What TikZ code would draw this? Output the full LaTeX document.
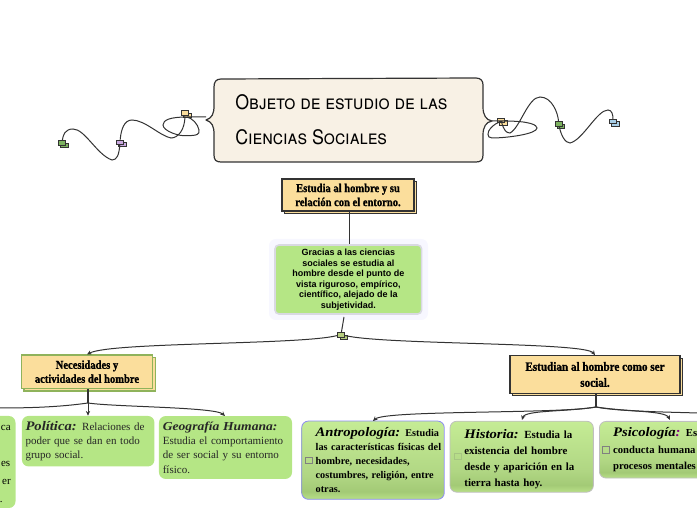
\documentclass[tikz,border=0pt]{standalone}
\usepackage{fontspec}
\setmainfont{Liberation Serif}
\setsansfont{Liberation Sans}
\newfontfamily\titlefont[Letters=SmallCaps,FakeStretch=0.89]{TeX Gyre Heros}
\newfontfamily\headfont[FakeStretch=0.88,FakeBold=1.2]{Liberation Serif Bold}
\newfontfamily\fancyfont[FakeStretch=1.12]{Liberation Serif Bold Italic}
\usetikzlibrary{arrows.meta,shadows}
\definecolor{cream}{HTML}{F8F1E5}
\definecolor{sand}{HTML}{FBDE9C}
\definecolor{leaf}{HTML}{B5E685}
\definecolor{olive}{HTML}{8FB35B}
\definecolor{ink}{HTML}{333333}
\definecolor{lilac}{HTML}{C9A8E0}
\definecolor{moss}{HTML}{7DB360}
\definecolor{sky}{HTML}{A8CFE8}
\definecolor{gt}{HTML}{C5EC95}
\definecolor{gm}{HTML}{B0D683}
\definecolor{gd}{HTML}{A3CA76}
\definecolor{gb}{HTML}{B8E088}
\pgfdeclareverticalshading{gshade}{100bp}{color(0bp)=(gb); color(25bp)=(gb); color(30bp)=(gd); color(40bp)=(gm); color(75bp)=(gt); color(100bp)=(gt)}
\tikzset{
  x=0.75pt,y=-0.75pt,
  wire/.style={draw=ink,line width=0.75pt},
  arrowwire/.style={wire,-{Stealth[length=3.5pt,width=3.2pt]}},
  tiny/.style={draw=ink,line width=0.6pt,fill=#1,minimum width=5.4pt,minimum height=3.3pt,inner sep=0pt,
    copy shadow={shadow xshift=1.8pt,shadow yshift=-1.7pt}},
  sandbox/.style={draw=ink,line width=0.8pt,fill=sand,inner sep=0pt,align=center,
    font=\headfont\fontsize{9}{10.5}\selectfont,
    copy shadow={shadow xshift=2pt,shadow yshift=-2pt}},
  leafbox/.style={fill=leaf,rounded corners=5pt,inner sep=0pt,align=left,text=black!85,
    font=\fontsize{8.25}{10.8}\selectfont},
  gradbox/.style={draw=#1,line width=0.6pt,shading=gshade,rounded corners=5pt,inner sep=0pt,align=left,
    font=\bfseries\fontsize{7.7}{10.5}\selectfont},
  checksq/.style={draw=#1,line width=0.5pt,minimum size=5pt,inner sep=0pt}
}
\newcommand{\fancytext}[1]{{\fancyfont\fontsize{9.8}{10.5}\selectfont #1}}
\newcommand{\fancysmall}[1]{{\fancyfont\fontsize{9.1}{10.5}\selectfont #1}}
\newcommand{\indA}{\hspace*{9pt}}
\newcommand{\lift}[1]{\rule{0pt}{#1}}
\begin{document}
\begin{tikzpicture}
\useasboundingbox (0,0) rectangle (697,520);
\clip (0,0) rectangle (697,520);
% title
\draw[fill=cream,draw=black!80,line width=0.9pt,line join=round]
  (221,79) .. controls (216,79) and (214,82) .. (214,87) -- (214,106)
  .. controls (214,114) and (212,118) .. (206,120)
  .. controls (212,122) and (214,126) .. (214,134) -- (214,155)
  .. controls (214,160) and (216,162) .. (221,162) -- (476,162)
  .. controls (481,162) and (483,160) .. (483,155) -- (483,135)
  .. controls (483,127) and (486,122) .. (492,121)
  .. controls (486,120) and (483,115) .. (483,107) -- (483,85)
  .. controls (483,81) and (481,78) .. (476,78) -- cycle;
\node[anchor=west,inner sep=0pt,align=left,font=\titlefont\fontsize{15}{26}\selectfont] (title) at (235,120)
  {Objeto de estudio de las\\Ciencias Sociales};
% little tabs
\node[tiny=sand] (ly) at (185,113) {};
\node[tiny=lilac] (lp) at (120,142.2) {};
\node[tiny=moss] (lg) at (62,143) {};
\node[tiny=sand] (ry) at (501,120.5) {};
\node[tiny=moss] (rg) at (558.7,124) {};
\node[tiny=sky] (rb) at (613,121.7) {};
\coordinate (ln) at (206,117);
\coordinate (rn) at (492,121);
% left curves
\draw[wire] (ln) -- (187,117)
  .. controls (170,117) and (163,120) .. (163,125)
  .. controls (163,131) and (180,137) .. (187,135.5)
  .. controls (197,136) and (200,134) .. (199,130)
  .. controls (198,124) and (192,118) .. (187,117);
\draw[wire] (ly) .. controls (185,130) and (178,138) .. (171,138)
  .. controls (160,136) and (145,120) .. (132,120)
  .. controls (124,120) and (121,130) .. (lp);
\draw[wire] (lp) .. controls (119,155) and (117,160) .. (112,160)
  .. controls (97,155) and (85,129) .. (73,129)
  .. controls (65,129) and (63,135) .. (lg);
% right curves
\draw[wire] (rn) -- (504,121)
  .. controls (530,121) and (537,125) .. (537,128)
  .. controls (537,134) and (507,138) .. (492,138)
  .. controls (486,138) and (488,131) .. (490,129)
  .. controls (493,125) and (498,122) .. (503,121);
\draw[wire] (ry) .. controls (504,130) and (506,133) .. (510,133)
  .. controls (520,128) and (528,97) .. (540,97)
  .. controls (552,97) and (558,113) .. (rg);
\draw[wire] (rg) .. controls (561,135) and (565,143) .. (570,143)
  .. controls (583,140) and (597,110) .. (608,110)
  .. controls (612,110) and (613,115) .. (rb);
% central stem
\node[sandbox,minimum width=99pt,minimum height=24pt] (est) at (348,195)
  {Estudia al hombre y su\\relación con el entorno.};
\fill[black!3!blue!3!white,rounded corners=5pt] (269,239) rectangle (428,320);
\draw[wire] (est.south -| 349,0) -- (349,246);
\node[draw=blue!25!black!15!white,line width=1.2pt,fill=leaf,rounded corners=3pt,minimum width=110pt,minimum height=51.75pt,inner sep=0pt,align=center,
  font=\sffamily\bfseries\fontsize{6.75}{7.9}\selectfont] (gra) at (348.3,279.5)
  {Gracias a las ciencias\\sociales se estudia al\\hombre desde el punto de\\vista riguroso, empírico,\\científico, alejado de la\\subjetividad.};
\coordinate (grab) at (344,317);
\node[draw=ink,line width=0.6pt,fill=leaf!70!sand!90!black,minimum width=5.2pt,minimum height=3.5pt,inner sep=0pt,
  copy shadow={shadow xshift=2pt,shadow yshift=-2pt}] (hub) at (341,334.6) {};
\draw[wire] (grab) -- (hub);
% level 2 boxes
\node[sandbox,draw=olive,minimum width=98.5pt,minimum height=25pt] (nec) at (87,371.7)
  {Necesidades y\\actividades del hombre};
\node[sandbox,minimum width=127.5pt,minimum height=28.2pt,font=\headfont\fontsize{9.5}{12}\selectfont] (hom) at (595,374.5)
  {Estudian al hombre como ser\\social.};
\draw[arrowwire] (hub) .. controls (300,345) and (110,342) .. (nec.north);
\draw[arrowwire] (hub) .. controls (385,345) and (585,342) .. (hom.north);
% left children
\coordinate (nj) at (88,403);
\node[leafbox,minimum width=18pt,minimum height=69pt] (lft) at (3.5,462) {};
\node[anchor=base east,font=\fontsize{8.25}{10}\selectfont,inner sep=0pt] (la) at (11,431) {ca};
\node[anchor=base east,font=\fontsize{8.25}{10}\selectfont,inner sep=0pt] (lb) at (10.5,466.5) {es};
\node[anchor=base east,font=\fontsize{8.25}{10}\selectfont,inner sep=0pt] (lc) at (11,485) {er};
\node[anchor=base east,font=\fontsize{8.25}{10}\selectfont,inner sep=0pt] (ld) at (3,503) {.};
\node[leafbox,minimum width=99.4pt,minimum height=37.9pt,text width=94pt] (pol) at (88.2,441.2)
  {\fancytext{Política:} Relaciones de\\poder que se dan en todo\\grupo social.};
\node[leafbox,minimum width=99.8pt,minimum height=47.2pt,text width=94pt] (geo) at (225.5,447.5)
  {\fancysmall{Geografía Humana:}\\Estudia el comportamiento\\de ser social y su entorno\\físico.};
\draw[wire,line width=1.1pt] (nec.south -| nj) -- (nj);
\draw[arrowwire] (nj) -- (pol.north -| nj);
\draw[arrowwire] (nj) .. controls (115,407) and (215,407) .. (225,416);
\draw[wire] (nj) .. controls (60,407) and (30,408) .. (0,408);
% right children
\coordinate (hj) at (596,407);
\node[gradbox=blue!45!white!90!gray,minimum width=107pt,minimum height=58.7pt,text width=104pt] (ant) at (373,460.2)
  {\indA\fancytext{Antropología:} Estudia\\\indA las características físicas del\\\indA hombre, necesidades,\\\indA costumbres, religión, entre\\\indA otras.};
\node[gradbox=gray!50!white,minimum width=107.5pt,minimum height=53.2pt,text width=104pt,font=\bfseries\fontsize{8.2}{12}\selectfont] (his) at (521.7,456.7)
  {\indA\lift{10pt}\fancytext{Historia:} Estudia la\\\indA existencia del hombre\\\indA desde y aparición en la\\\indA tierra hasta hoy.};
\node[gradbox=gray!50!white,anchor=north west,minimum width=90pt,minimum height=42.5pt,text width=87pt,font=\bfseries\fontsize{8}{12.6}\selectfont] (psi) at (599,421)
  {\hspace*{8.8pt}\fancytext{Psicología\textcolor{violet}{:}} Es\\\hspace*{8.8pt}conducta humana\\\hspace*{8.8pt}procesos mentales};
\node[checksq=gray] (ca) at (309,460.5) {};
\node[checksq=gm!80!gray] (cb) at (458,456.5) {};
\node[checksq=gray] (cc) at (606,449.7) {};
\draw[wire,line width=1.1pt] (hom.south -| hj) -- (hj);
\draw[arrowwire] (hj) .. controls (560,414) and (385,410) .. (373,421);
\draw[arrowwire] (hj) .. controls (565,412) and (525,410) .. (522,420);
\draw[arrowwire] (hj) .. controls (620,412) and (665,410) .. (670,420);
\draw[wire] (hj) .. controls (630,412) and (670,412) .. (697,413);
\end{tikzpicture}
\end{document}
